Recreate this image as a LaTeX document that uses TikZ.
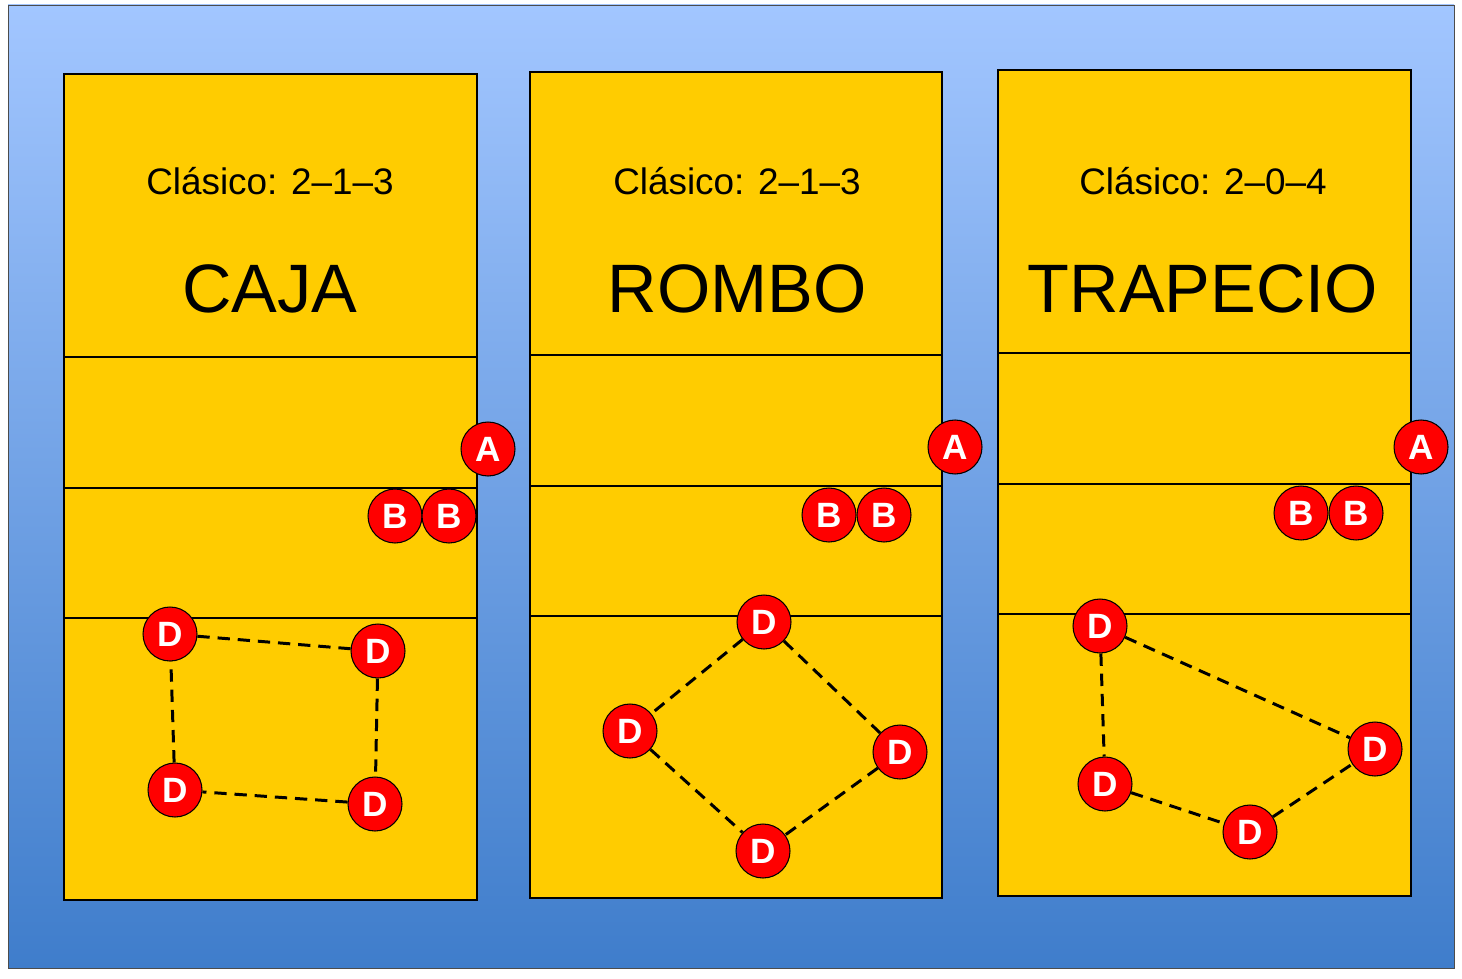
\documentclass[tikz,border=0pt]{standalone}
\usepackage{fontspec}
\setmainfont{Liberation Sans}
\begin{document}
\begin{tikzpicture}[x=0.02cm,y=-0.02cm,
  field/.style={draw=black,line width=1.6pt,fill=fieldcol},
  pl/.style={circle,draw=black,line width=0.6pt,fill=red,text=white,font=\fontsize{20}{20}\selectfont\bfseries,minimum size=1.08cm,inner sep=0pt},
  dl/.style={line width=1.7pt,dash pattern=on 7pt off 4.5pt},
  sub/.style={font=\fontsize{21}{21}\selectfont},
  ttl/.style={font=\fontsize{39}{39}\selectfont}]
\definecolor{fieldcol}{HTML}{FFCC00}
\definecolor{bgtop}{HTML}{A2C6FF}
\definecolor{bgbot}{HTML}{3F7DCB}
\useasboundingbox (0,0) rectangle (1462,979);
\shade[top color=bgtop,bottom color=bgbot,draw=black!70,line width=0.5pt] (8,5) rectangle (1454,968);
% panel 1
\draw[field] (64,74) rectangle (477,900);
\draw[line width=1.6pt] (64,357)--(477,357) (64,488)--(477,488) (64,618)--(477,618);
\node[sub] (s1) at (270,181) {Clásico: 2–1–3};
\node[ttl] (t1) at (270,289) {CAJA};
% panel 2
\draw[field] (530,72) rectangle (942,898);
\draw[line width=1.6pt] (530,355)--(942,355) (530,486)--(942,486) (530,616)--(942,616);
\node[sub] (s2) at (737,181) {Clásico: 2–1–3};
\node[ttl] (t2) at (737,289) {ROMBO};
% panel 3
\draw[field] (998,70) rectangle (1411,896);
\draw[line width=1.6pt] (998,353)--(1411,353) (998,484)--(1411,484) (998,614)--(1411,614);
\node[sub] (s3) at (1203,181) {Clásico: 2–0–4};
\node[ttl] (t3) at (1203,289) {TRAPECIO};
% players 1
\node[pl] (a1) at (488,449) {A};
\node[pl] (b1a) at (395,516) {B};
\node[pl] (b1b) at (449,516) {B};
\node[pl] (d1a) at (170,634) {D};
\node[pl] (d1b) at (378,651) {D};
\node[pl] (d1c) at (175,790) {D};
\node[pl] (d1d) at (375,804) {D};
\draw[dl] (d1a)--(d1b) (d1b)--(d1d) (d1d)--(d1c) (d1c)--(d1a);
% players 2
\node[pl] (a2) at (955,447) {A};
\node[pl] (b2a) at (829,515) {B};
\node[pl] (b2b) at (884,515) {B};
\node[pl] (d2a) at (764,622) {D};
\node[pl] (d2b) at (630,731) {D};
\node[pl] (d2c) at (900,752) {D};
\node[pl] (d2d) at (763,851) {D};
\draw[dl] (d2a)--(d2b) (d2a)--(d2c) (d2b)--(d2d) (d2c)--(d2d);
% players 3
\node[pl] (a3) at (1421,447) {A};
\node[pl] (b3a) at (1301,513) {B};
\node[pl] (b3b) at (1356,513) {B};
\node[pl] (d3a) at (1100,626) {D};
\node[pl] (d3b) at (1375,749) {D};
\node[pl] (d3c) at (1105,784) {D};
\node[pl] (d3d) at (1250,832) {D};
\draw[dl] (d3a)--(d3b) (d3a)--(d3c) (d3c)--(d3d) (d3d)--(d3b);
\end{tikzpicture}
\end{document}
